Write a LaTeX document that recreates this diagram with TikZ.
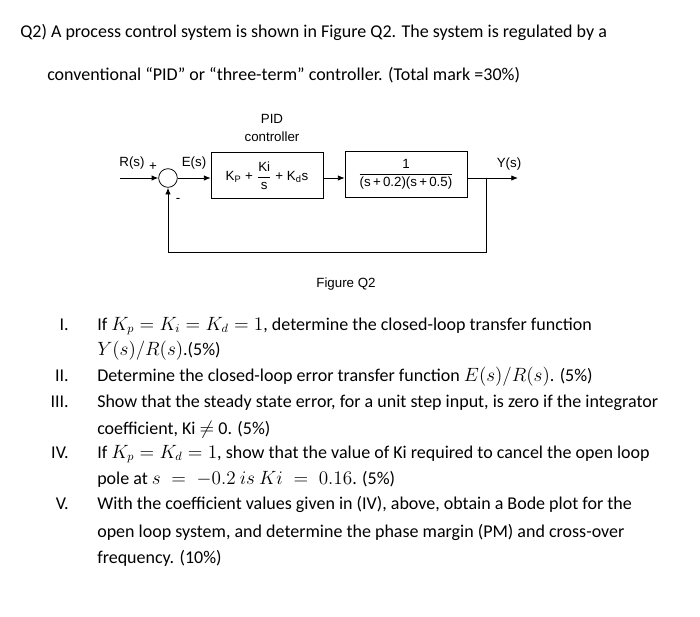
\documentclass[tikz,border=0pt]{standalone}
\usepackage{fontspec}
\setmainfont{Carlito}
\newfontfamily\arialf{Liberation Sans}
\usetikzlibrary{arrows.meta}
\begin{document}
\begin{tikzpicture}[x=0.75pt,y=-0.75pt,
  txt/.style={anchor=base west,inner sep=0pt,font=\fontsize{13.5}{15}\selectfont},
  num/.style={anchor=base east,inner sep=0pt,font=\fontsize{13.5}{15}\selectfont},
  dl/.style={inner sep=0pt,font=\arialf\fontsize{10}{12}\selectfont},
  blk/.style={draw,line width=0.6pt},
  arr/.style={-{Latex[length=5pt,width=4pt]},line width=0.6pt},
  ln/.style={line width=0.6pt}]
\useasboundingbox (0,0) rectangle (700,617);
\node[txt] (h1) at (20,38) {Q2) A process control system is shown in Figure Q2. The system is regulated by a};
\node[txt] (h2) at (47,80) {conventional “PID” or “three-term” controller. (Total mark =30\%)};
% diagram
\node[draw,circle,minimum size=14pt,inner sep=0pt,line width=0.6pt] (sum) at (168,178) {};
\node[blk,minimum width=84pt,minimum height=34pt] (c) at (267,175.5) {};
\node[blk,minimum width=91.5pt,minimum height=35pt] (p) at (406,174.5) {};
\node[dl] (ct) at (c.center) {K\textsubscript{P} + $\displaystyle\frac{\textrm{\arialf Ki}}{\textrm{\arialf s}}$ + K\textsubscript{d}s};
\node[dl] (pt) at (p.center) {$\displaystyle\frac{\textrm{\arialf 1}}{\textrm{\arialf (s\,+\,0.2)(s\,+\,0.5)}}$};
\node[dl,align=center] (pid) at (272,128) {PID\\[2pt]controller};
\coordinate (in) at (120,178);
\coordinate (br) at (486,178);
\coordinate (out) at (518,178);
\coordinate (fb) at (486,252);
\draw[arr] (in) -- (sum);
\draw[arr] (sum) -- (c.west|-sum);
\draw[arr] (c.east|-sum) -- (p.west|-sum);
\draw[ln] (p.east|-sum) -- (br);
\draw[arr] (br) -- (out);
\draw[arr] (br) -- (fb) -| (sum);
\node[dl] (r) at (132,163) {R(s)};
\node[dl] (pl) at (153,167) {+};
\node[dl] (e) at (194,163) {E(s)};
\node[dl] (y) at (509,164) {Y(s)};
\node[dl] (mi) at (178,200) {-};
\node[dl] (fig) at (346,284) {Figure Q2};
% questions
\node[num] (n1) at (69,330) {I.};
\node[txt] (t1) at (97,330) {If $K_p=K_i=K_d=1$, determine the closed-loop transfer function};
\node[txt] (t1b) at (97,355) {$Y(s)/R(s)$.(5\%)};
\node[num] (n2) at (69,381) {II.};
\node[txt] (t2) at (97,381) {Determine the closed-loop error transfer function $E(s)/R(s)$. (5\%)};
\node[num] (n3) at (69,407) {III.};
\node[txt] (t3) at (97,407) {Show that the steady state error, for a unit step input, is zero if the integrator};
\node[txt] (t3b) at (97,434) {coefficient, Ki $\neq$ 0. (5\%)};
\node[num] (n4) at (69,458) {IV.};
\node[txt] (t4) at (97,458) {If $K_p=K_d=1$, show that the value of Ki required to cancel the open loop};
\node[txt] (t4b) at (97,484) {pole at $s\;=\;-0.2\ is\ Ki\;=\;0.16$. (5\%)};
\node[num] (n5) at (69,509) {V.};
\node[txt] (t5) at (97,509) {With the coefficient values given in (IV), above, obtain a Bode plot for the};
\node[txt] (t5b) at (97,537) {open loop system, and determine the phase margin (PM) and cross-over};
\node[txt] (t5c) at (97,563) {frequency. (10\%)};
\end{tikzpicture}
\end{document}
